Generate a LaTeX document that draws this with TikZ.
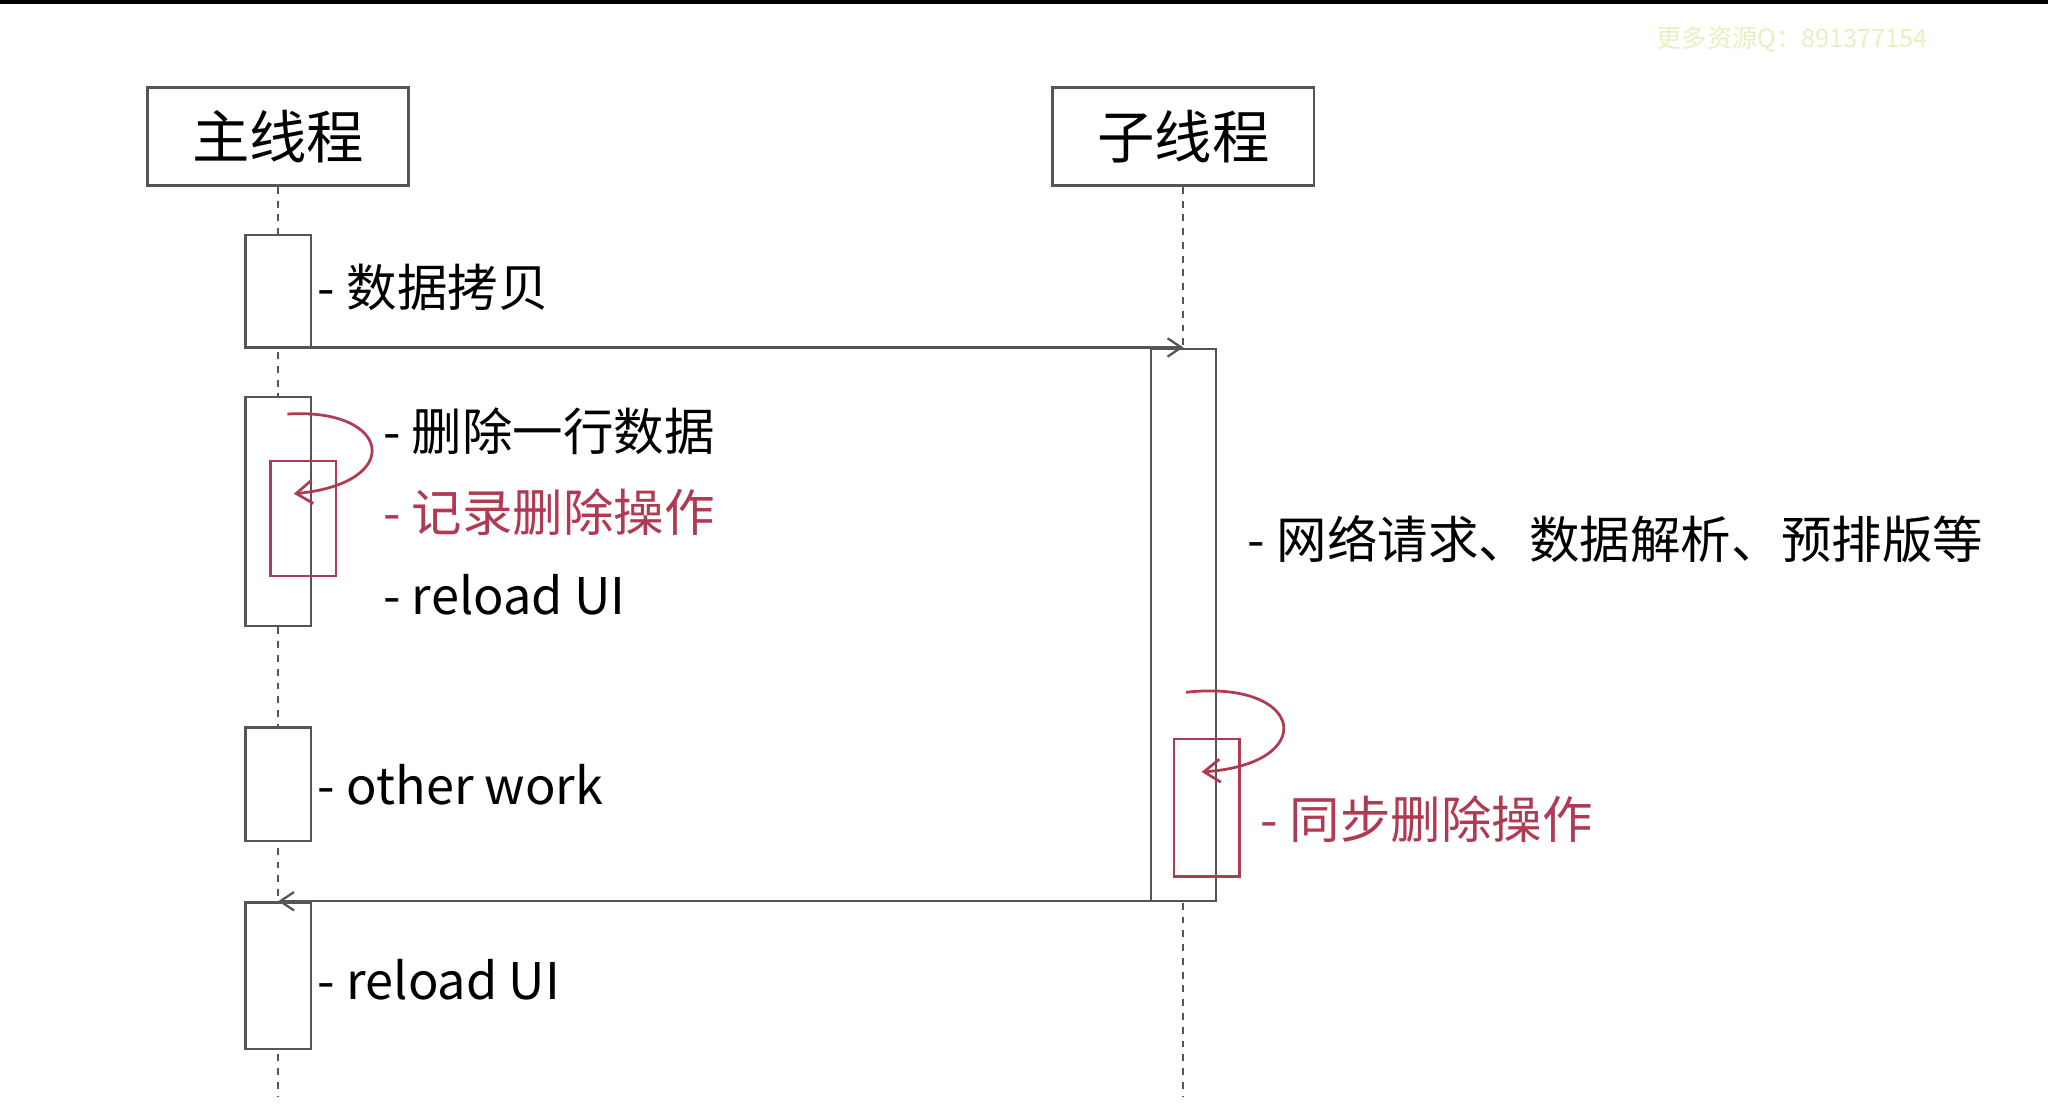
\documentclass[tikz,border=0pt]{standalone}
\usepackage{fontspec}
\setmainfont{Noto Sans CJK SC}
\usetikzlibrary{arrows.meta}
\definecolor{myred}{HTML}{B03A52}
\definecolor{lineg}{HTML}{555555}
\definecolor{wmc}{HTML}{E8F0C0}
\tikzset{
 hdr/.style={draw=lineg,line width=1.2pt,minimum width=200*0.02cm,minimum height=75*0.02cm,font=\fontsize{25}{28}\selectfont},
 act/.style={draw=lineg,line width=1pt,fill=white},
 ract/.style={draw=myred,line width=1pt},
 life/.style={draw=lineg,dashed,line width=0.9pt},
 lbl/.style={anchor=west,font=\fontsize{22}{25}\selectfont,inner sep=0},
 rlbl/.style={lbl,text=myred},
 msg/.style={draw=lineg,line width=1pt,-{Straight Barb[length=6pt,width=8pt]}},
 loop/.style={draw=myred,line width=1.2pt,-{Straight Barb[length=7pt,width=10pt]}}
}
\begin{document}
\begin{tikzpicture}[x=0.02cm,y=-0.02cm]
\useasboundingbox[fill=white] (0,0) rectangle (1568,850);
\draw[line width=2pt,black] (0,1) -- (1568,1);
\node[text=wmc,anchor=east,font=\fontsize{11}{12}\selectfont] (wm) at (1482,30) {更多资源Q：891377154};
\node[hdr] (m) at (213,104.5) {主线程};
\node[hdr] (s) at (906,104.5) {子线程};
\draw[life] (m.south) -- (213,840);
\draw[life] (s.south) -- (906,840);
\draw[act] (188,180) rectangle (238,266);
\draw[act] (188,304) rectangle (238,479);
\draw[act] (188,557) rectangle (238,644);
\draw[act] (188,691) rectangle (238,803);
\draw[act] (881,267) rectangle (931,690);
\draw[ract] (207,353) rectangle (257,441);
\draw[ract] (899,566) rectangle (949,671);
\coordinate (a1) at (238,266); \coordinate (a2) at (906,266);
\draw[msg] (a1) -- (a2);
\coordinate (b1) at (881,690); \coordinate (b2) at (213,690);
\draw[msg] (b1) -- (b2);
\coordinate (l1) at (220,317); \coordinate (l2) at (225,378);
\draw[loop] (l1) .. controls (300,312) and (310,370) .. (l2);
\coordinate (k1) at (908,530); \coordinate (k2) at (920,591);
\draw[loop] (k1) .. controls (1000,520) and (1010,585) .. (k2);
\node[lbl] (t1) at (243,220) {- 数据拷贝};
\node[lbl] (t2) at (293,330) {- 删除一行数据};
\node[rlbl] (t3) at (293,392) {- 记录删除操作};
\node[lbl] (t4) at (293,455) {- reload UI};
\node[lbl] (t5) at (955,413) {- 网络请求、数据解析、预排版等};
\node[lbl] (t6) at (243,601) {- other work};
\node[rlbl] (t7) at (965,627) {- 同步删除操作};
\node[lbl] (t8) at (243,750) {- reload UI};
\end{tikzpicture}
\end{document}
